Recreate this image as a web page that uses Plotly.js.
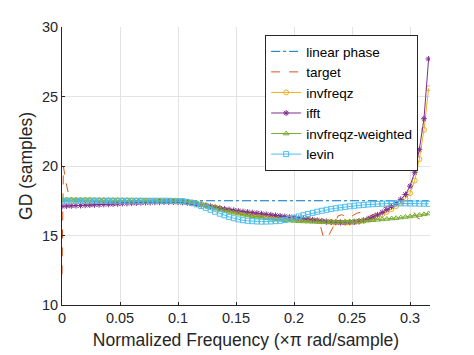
<!DOCTYPE html>
<html>
<head>
<meta charset="utf-8">
<script src="https://cdn.plot.ly/plotly-3.0.1.min.js"></script>
<style>html,body{margin:0;padding:0;background:#fff;}#chart{width:474px;height:355px;}</style>
</head>
<body>
<div id="chart"></div>
<script>
// Frequency grid (x pi rad/sample)
const freq = [0.000,0.004,0.008,0.012,0.016,0.020,0.024,0.028,0.032,0.036,
0.040,0.044,0.048,0.052,0.056,0.060,0.064,0.068,0.072,0.076,
0.080,0.084,0.088,0.092,0.096,0.100,0.104,0.108,0.112,0.116,
0.120,0.124,0.128,0.132,0.136,0.140,0.144,0.148,0.152,0.156,
0.160,0.164,0.168,0.172,0.176,0.180,0.184,0.188,0.192,0.196,
0.200,0.204,0.208,0.212,0.216,0.220,0.224,0.228,0.232,0.236,
0.240,0.244,0.248,0.252,0.256,0.260,0.264,0.268,0.272,0.276,
0.280,0.284,0.288,0.292,0.296,0.300,0.304,0.308,0.312,0.316];

const linearFreq = [0, 0.316];
const linearGD = [17.5, 17.5];

const targetFreq = [0,0.0012,0.003,0.005,0.008,0.012,0.03,0.06,0.09,0.1,0.11,0.12,0.13,0.14,0.15,0.16,0.17,0.18,0.19,0.2,0.21,0.216,0.2224,0.225,0.2267,0.2293,0.2336,0.2379,0.241,0.2457,0.249,0.254,0.259,0.264,0.2707,0.2776,0.285,0.291,0.2966,0.2983,0.3017,0.306,0.31,0.3155];
const targetGD = [12.2,20.0,19.0,18.2,17.7,17.55,17.5,17.48,17.48,17.45,17.38,17.2,17.0,16.8,16.6,16.45,16.3,16.2,16.1,16.05,16.0,16.0,15.8,15.0,14.8,14.9,15.6,16.4,16.5,16.3,16.35,16.6,16.7,16.35,16.6,17.0,17.25,17.35,17.3,17.2,16.9,16.3,16.1,16.6];

const invfreqzGD = [17.56,17.56,17.56,17.55,17.55,17.55,17.55,17.54,17.54,17.54,
17.53,17.53,17.53,17.52,17.52,17.52,17.51,17.51,17.50,17.50,
17.49,17.49,17.48,17.48,17.47,17.46,17.44,17.41,17.37,17.31,
17.24,17.16,17.08,17.00,16.92,16.85,16.78,16.72,16.66,16.61,
16.56,16.52,16.48,16.44,16.40,16.36,16.32,16.29,16.26,16.23,
16.20,16.17,16.14,16.11,16.08,16.05,16.02,15.99,15.97,15.95,
15.94,15.94,15.95,15.97,16.00,16.05,16.13,16.23,16.36,16.52,
16.70,16.90,17.12,17.37,17.66,18.05,18.95,20.50,22.60,25.60];

const ifftGD = [17.10,17.12,17.13,17.15,17.16,17.18,17.19,17.21,17.22,17.24,
17.25,17.27,17.28,17.30,17.31,17.33,17.34,17.36,17.37,17.38,
17.39,17.40,17.41,17.41,17.41,17.40,17.38,17.35,17.31,17.26,
17.21,17.15,17.09,17.03,16.97,16.91,16.86,16.81,16.76,16.72,
16.68,16.64,16.60,16.56,16.52,16.48,16.44,16.40,16.36,16.32,
16.28,16.24,16.20,16.16,16.12,16.08,16.04,16.00,15.97,15.95,
15.94,15.94,15.95,15.98,16.03,16.10,16.20,16.33,16.48,16.66,
16.86,17.08,17.32,17.60,17.95,18.55,19.55,21.20,23.40,27.70];

const weightedGD = [17.56,17.56,17.56,17.55,17.55,17.55,17.55,17.54,17.54,17.54,
17.54,17.53,17.53,17.53,17.53,17.52,17.52,17.52,17.52,17.51,
17.51,17.51,17.51,17.50,17.50,17.50,17.48,17.45,17.40,17.33,
17.25,17.16,17.07,16.98,16.89,16.80,16.72,16.64,16.57,16.50,
16.44,16.38,16.33,16.28,16.24,16.20,16.16,16.13,16.10,16.07,
16.05,16.03,16.01,16.00,15.99,15.98,15.97,15.97,15.97,15.97,
15.98,15.99,16.00,16.02,16.04,16.06,16.08,16.10,16.13,16.16,
16.19,16.22,16.25,16.29,16.33,16.37,16.42,16.47,16.52,16.58];

const levinGD = [17.50,17.50,17.50,17.50,17.50,17.50,17.50,17.50,17.50,17.50,
17.50,17.50,17.50,17.50,17.50,17.50,17.50,17.50,17.50,17.50,
17.50,17.50,17.50,17.50,17.49,17.48,17.47,17.42,17.34,17.24,
17.12,16.99,16.85,16.71,16.57,16.45,16.34,16.24,16.16,16.10,
16.06,16.03,16.01,16.00,16.00,16.01,16.03,16.06,16.12,16.20,
16.28,16.37,16.46,16.55,16.63,16.71,16.78,16.85,16.91,16.96,
17.01,17.06,17.10,17.14,17.17,17.20,17.23,17.25,17.27,17.29,
17.30,17.30,17.31,17.31,17.31,17.30,17.30,17.29,17.29,17.28];

const FONT = 'Liberation Sans, Arial, Helvetica, sans-serif';
const mk = (sym, color) => ({symbol: sym, size: 5, color: color, line: {color: color, width: 1}});

const traces = [
  {x: linearFreq, y: linearGD, name: 'linear phase', mode: 'lines',
   line: {color: '#0072BD', width: 1, dash: 'dashdot'}},
  {x: targetFreq, y: targetGD, name: 'target', mode: 'lines',
   line: {color: '#D95319', width: 1, dash: 'dash'}},
  {x: freq, y: invfreqzGD, name: 'invfreqz', mode: 'lines+markers',
   line: {color: '#EDB120', width: 1}, marker: mk('circle-open', '#EDB120')},
  {x: freq, y: ifftGD, name: 'ifft', mode: 'lines+markers',
   line: {color: '#7E2F8E', width: 1}, marker: mk('asterisk-open', '#7E2F8E')},
  {x: freq, y: weightedGD, name: 'invfreqz-weighted', mode: 'lines+markers',
   line: {color: '#77AC30', width: 1}, marker: mk('triangle-up-open', '#77AC30')},
  {x: freq, y: levinGD, name: 'levin', mode: 'lines+markers',
   line: {color: '#4DBEEE', width: 1}, marker: mk('square-open', '#4DBEEE')}
];

const layout = {
  width: 474, height: 355,
  margin: {l: 62, r: 44, t: 27, b: 50},
  paper_bgcolor: '#fff', plot_bgcolor: '#fff',
  font: {family: FONT, color: '#262626', size: 14},
  showlegend: true,
  legend: {x: 0.552, y: 0.971, xanchor: 'left', yanchor: 'top',
    bgcolor: '#fff', bordercolor: '#262626', borderwidth: 1,
    font: {family: FONT, size: 13.5, color: '#000'}, tracegroupgap: 0},
  xaxis: {range: [0, 0.3172], tickvals: [0,0.05,0.1,0.15,0.2,0.25,0.3],
    ticktext: ['0','0.05','0.1','0.15','0.2','0.25','0.3'],
    showgrid: true, gridcolor: '#e3e3e3', gridwidth: 1, zeroline: false,
    showline: true, linecolor: '#262626', linewidth: 1, mirror: false,
    ticks: 'inside', ticklen: 3, tickcolor: '#262626',
    tickfont: {family: FONT, size: 14.5, color: '#262626'},
    title: {text: 'Normalized Frequency (\u00D7\u03C0 rad/sample)', font: {family: FONT, size: 17.5, color: '#262626'}, standoff: 8}},
  yaxis: {range: [10, 30], tickvals: [10,15,20,25,30],
    showgrid: true, gridcolor: '#e3e3e3', gridwidth: 1, zeroline: false,
    showline: true, linecolor: '#262626', linewidth: 1, mirror: false,
    ticks: 'inside', ticklen: 3, tickcolor: '#262626',
    tickfont: {family: FONT, size: 14.5, color: '#262626'},
    title: {text: 'GD (samples)', font: {family: FONT, size: 17.5, color: '#262626'}, standoff: 4}}
};

Plotly.newPlot('chart', traces, layout, {displayModeBar: false, staticPlot: true});
</script>
</body>
</html>
